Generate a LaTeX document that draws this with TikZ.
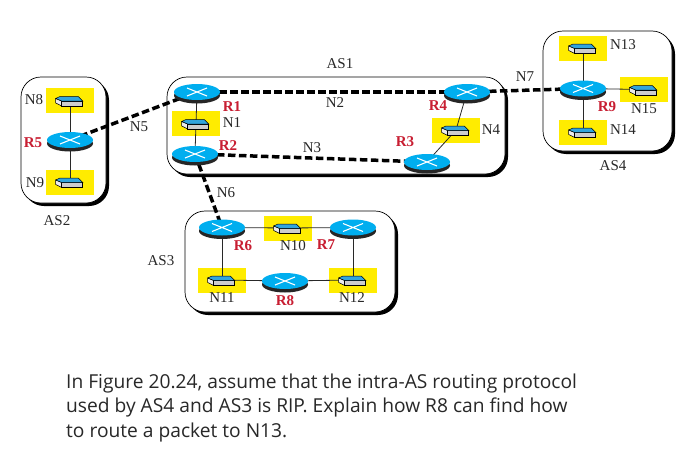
\documentclass[tikz,border=0pt]{standalone}
\usepackage{fontspec}
\setmainfont{Liberation Serif}
\newfontfamily\capfont{Open Sans}
\usetikzlibrary{shapes.geometric,shadows}
\pgfdeclarelayer{bg}\pgfdeclarelayer{conn}
\pgfsetlayers{bg,conn,main}
\definecolor{rcyan}{RGB}{0,174,239}
\definecolor{ybox}{RGB}{255,236,0}
\definecolor{swtop}{RGB}{50,165,220}
\definecolor{swfront}{RGB}{205,205,205}
\definecolor{rlabel}{RGB}{200,30,50}
\definecolor{ink}{RGB}{40,40,40}
\tikzset{
  asbox/.style={draw=black,line width=0.7pt,fill=white,rounded corners=20pt,
    general shadow={shadow xshift=3pt,shadow yshift=-3pt,fill=black,rounded corners=20pt}},
  router/.style={ellipse,draw=none,fill=rcyan,minimum width=46pt,minimum height=16pt,inner sep=0pt,
    general shadow={shadow yshift=-3.5pt,fill=black!85},
    path picture={\draw[white,line width=1.1pt]
      ([shift={(-10pt,-4pt)}]path picture bounding box.center) -- ([shift={(10pt,4pt)}]path picture bounding box.center)
      ([shift={(-10pt,4pt)}]path picture bounding box.center) -- ([shift={(10pt,-4pt)}]path picture bounding box.center);}},
  yel/.style={fill=ybox,draw=none,minimum width=48pt,minimum height=25pt,inner sep=0pt},
  thin link/.style={draw=ink,line width=0.8pt},
  dash link/.style={draw=black,line width=3.5pt,dash pattern=on 7.5pt off 3.5pt},
  lab/.style={font=\fontsize{15}{15}\selectfont,text=ink,inner sep=0pt},
  rlab/.style={font=\fontsize{15}{15}\selectfont\bfseries,text=rlabel,inner sep=0pt},
  captext/.style={font=\capfont\fontsize{19.2}{19.2}\selectfont,text=ink,inner sep=0pt,anchor=base west},
}
\newcommand{\swicon}[1]{%
  \begin{scope}[shift={(#1.center)},x=1pt,y=-1pt,draw=black,line width=0.5pt]
    \filldraw[fill=white!85!gray] (-14.3,-2) -- (-8.3,0.5) -- (-8.3,5.5) -- (-14.3,2.5) -- cycle;
    \filldraw[fill=swfront] (-8.3,0.5) rectangle (12.7,5.5);
    \filldraw[fill=swtop] (-14.3,-2) -- (-10,-4) -- (8.3,-4) -- (12.7,0.5) -- (-8.3,0.5) -- cycle;
  \end{scope}}
\begin{document}
\begin{tikzpicture}[x=1pt,y=-1pt]
\useasboundingbox (0,0) rectangle (700,471);
\begin{pgfonlayer}{bg}
  \fill[white] (0,0) rectangle (700,471);
  \draw[asbox] (21,77) rectangle (106,203);
  \draw[asbox] (167,77) rectangle (505,174);
  \draw[asbox] (543,31) rectangle (672,151);
  \draw[asbox] (185,211) rectangle (395,312);
  \node[yel] (N8) at (70,100.5) {};
  \node[yel] (N9) at (70,182) {};
  \node[yel] (N1) at (196,123.5) {};
  \node[yel] (N4) at (456,130) {};
  \node[yel] (N13) at (583,48) {};
  \node[yel] (N14) at (583,132) {};
  \node[yel] (N15) at (644,89.5) {};
  \node[yel] (N10) at (288,228) {};
  \node[yel] (N11) at (222,280) {};
  \node[yel] (N12) at (353,280) {};
\end{pgfonlayer}
\node[router] (R5) at (70,140) {};
\node[router] (R1) at (197,92) {};
\node[router] (R2) at (195,154) {};
\node[router] (R4) at (467,92) {};
\node[router] (R3) at (427,162) {};
\node[router] (R9) at (583,88.5) {};
\node[router] (R6) at (222,227.5) {};
\node[router] (R7) at (353,227.5) {};
\node[router] (R8) at (285,281) {};
\foreach \n in {N8,N9,N1,N4,N13,N14,N15,N10,N11,N12} {\swicon{\n}}
\begin{pgfonlayer}{conn}
  \draw[thin link] (N8.center) -- (R5.center);
  \draw[thin link] (N9.center) -- (R5.center);
  \draw[thin link] (R1.center) -- (N1.center);
  \draw[thin link] (N1.center) -- (R2.center);
  \draw[thin link] (R4.center) -- (N4.center);
  \draw[thin link] (N4.center) -- (R3.center);
  \draw[thin link] (N13.center) -- (R9.center);
  \draw[thin link] (N14.center) -- (R9.center);
  \draw[thin link] (N15.center) -- (R9.center);
  \draw[thin link] (R6.center) -- (N10.center);
  \draw[thin link] (N10.center) -- (R7.center);
  \draw[thin link] (R6.center) -- (N11.center);
  \draw[thin link] (R7.center) -- (N12.center);
  \draw[thin link] (N11.center) -- (R8.center);
  \draw[thin link] (R8.center) -- (N12.center);
  \draw[dash link] (R5.center) -- (R1.center);
  \draw[dash link] (R1.center) -- (R4.center);
  \draw[dash link] (R2.center) -- (R3.center);
  \draw[dash link] (R4.center) -- (R9.center);
  \draw[dash link] (R2.center) -- (R6.center);
\end{pgfonlayer}
\node[lab] (lN8) at (34,100) {N8};
\node[lab] (lN9) at (35,183) {N9};
\node[lab] (lAS2) at (57,221) {AS2};
\node[lab] (lN5) at (139,127) {N5};
\node[lab] (lN1) at (232,123) {N1};
\node[lab] (lN6) at (226,193) {N6};
\node[lab] (lAS1) at (340,64) {AS1};
\node[lab] (lN2) at (335,103) {N2};
\node[lab] (lN3) at (312,148) {N3};
\node[lab] (lN4) at (491,130) {N4};
\node[lab] (lN7) at (525,77) {N7};
\node[lab] (lN13) at (623,45) {N13};
\node[lab] (lN15) at (644,109) {N15};
\node[lab] (lN14) at (623,130) {N14};
\node[lab] (lAS4) at (613,166) {AS4};
\node[lab] (lAS3) at (161,261) {AS3};
\node[lab] (lN10) at (293,246) {N10};
\node[lab] (lN11) at (222,298) {N11};
\node[lab] (lN12) at (352,298) {N12};
\node[rlab] (lR5) at (33,143) {R5};
\node[rlab] (lR1) at (232,107) {R1};
\node[rlab] (lR2) at (228,146) {R2};
\node[rlab] (lR3) at (405,142) {R3};
\node[rlab] (lR4) at (438,106) {R4};
\node[rlab] (lR9) at (607,107) {R9};
\node[rlab] (lR6) at (243,246) {R6};
\node[rlab] (lR7) at (326,245) {R7};
\node[rlab] (lR8) at (285,301) {R8};
\node[captext] (c1) at (66,388.5) {In Figure 20.24, assume that the intra-AS routing protocol};
\node[captext] (c2) at (66,412.5) {used by AS4 and AS3 is RIP. Explain how R8 can find how};
\node[captext] (c3) at (66,437.5) {to route a packet to N13.};
\end{tikzpicture}
\end{document}
